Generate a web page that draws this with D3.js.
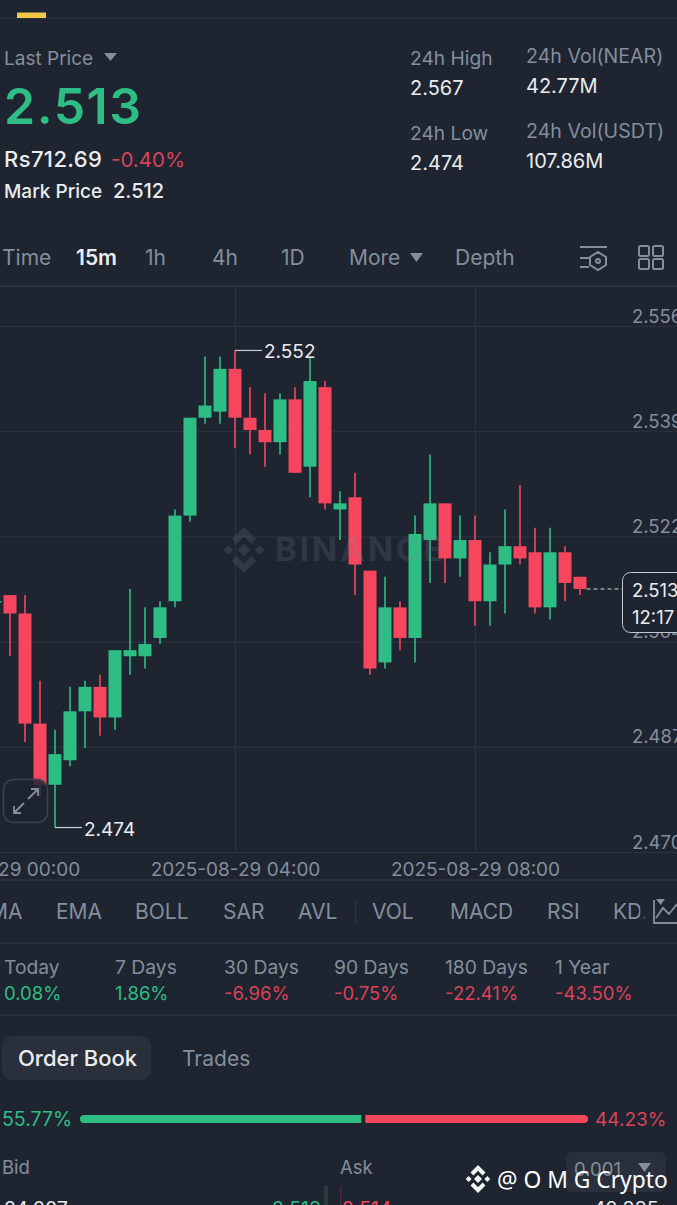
<!DOCTYPE html>
<html>
<head>
<meta charset="utf-8">
<script src="https://cdn.jsdelivr.net/npm/d3@7"></script>
<style>
    html, body { margin: 0; padding: 0; background: #1e2530; overflow: hidden; }
    svg { display: block; }
    text { font-family: Inter, sans-serif; }
</style>
</head>
<body>
<div id="chart"></div>
<script>
// candles, one per 15 minutes
const times = ['00:00', '00:15', '00:30', '00:45', '01:00', '01:15', '01:30', '01:45',
    '02:00', '02:15', '02:30', '02:45', '03:00', '03:15', '03:30', '03:45',
    '04:00', '04:15', '04:30', '04:45', '05:00', '05:15', '05:30', '05:45',
    '06:00', '06:15', '06:30', '06:45', '07:00', '07:15', '07:30', '07:45',
    '08:00', '08:15', '08:30', '08:45', '09:00', '09:15', '09:30', '09:45'];
const opens = [2.511, 2.512, 2.509, 2.491, 2.481, 2.485, 2.493, 2.497,
    2.492, 2.502, 2.502, 2.505, 2.511, 2.525, 2.541, 2.542,
    2.549, 2.541, 2.539, 2.537, 2.544, 2.533, 2.546, 2.526,
    2.528, 2.516, 2.501, 2.510, 2.505, 2.521, 2.527, 2.518,
    2.521, 2.511, 2.517, 2.520, 2.519, 2.510, 2.519, 2.515];
const closes = [2.511, 2.509, 2.491, 2.481, 2.486, 2.493, 2.497, 2.492,
    2.503, 2.503, 2.504, 2.510, 2.525, 2.541, 2.543, 2.549,
    2.541, 2.539, 2.537, 2.544, 2.532, 2.547, 2.527, 2.527,
    2.517, 2.500, 2.510, 2.505, 2.522, 2.527, 2.518, 2.521,
    2.511, 2.517, 2.520, 2.518, 2.510, 2.519, 2.514, 2.513];
const highs = [2.511, 2.512, 2.512, 2.498, 2.490, 2.497, 2.498, 2.499,
    2.503, 2.513, 2.510, 2.511, 2.526, 2.541, 2.551, 2.551,
    2.552, 2.546, 2.545, 2.545, 2.546, 2.551, 2.547, 2.529,
    2.532, 2.516, 2.515, 2.511, 2.525, 2.535, 2.527, 2.525,
    2.525, 2.519, 2.526, 2.530, 2.523, 2.523, 2.520, 2.515];
const lows = [2.511, 2.502, 2.488, 2.479, 2.474, 2.484, 2.487, 2.489,
    2.490, 2.499, 2.500, 2.504, 2.510, 2.524, 2.540, 2.540,
    2.536, 2.535, 2.533, 2.535, 2.532, 2.528, 2.526, 2.521,
    2.512, 2.499, 2.500, 2.503, 2.501, 2.514, 2.514, 2.515,
    2.507, 2.507, 2.509, 2.517, 2.509, 2.508, 2.511, 2.512];

const priceTicks = [2.556, 2.5388, 2.5216, 2.5044, 2.4872, 2.47];
const timeTicks = ['00:00', '04:00', '08:00'];
const lastPrice = 2.513;
const highMark = { time: '04:00', price: 2.552 };
const lowMark = { time: '01:00', price: 2.474 };

const headerLabels = ['24h High', '24h Low', '24h Vol(NEAR)', '24h Vol(USDT)'];
const headerValues = ['2.567', '2.474', '42.77M', '107.86M'];
const intervals = ['Time', '15m', '1h', '4h', '1D', 'More', 'Depth'];
const indicators = ['MA', 'EMA', 'BOLL', 'SAR', 'AVL', 'VOL', 'MACD', 'RSI', 'KD.'];
const periods = ['Today', '7 Days', '30 Days', '90 Days', '180 Days', '1 Year'];
const periodChanges = [0.08, 1.86, -6.96, -0.75, -22.41, -43.50];
const bidShare = 55.77;
const askShare = 44.23;

const W = 677;
const H = 1205;
const bg = '#1e2530';
const green = '#2ebd85';
const red = '#f6465d';
const redText = '#d8435a';
const gray = '#848e9c';
const white = '#eaecef';
const rule = '#2d333d';

const parseTime = d3.utcParse('%Y-%m-%d %H:%M');
const toDate = t => parseTime(`2025-08-29 ${t}`);

const svg = d3.select('#chart').append('svg')
    .attr('width', W)
    .attr('height', H);

svg.append('rect').attr('width', W).attr('height', H).attr('fill', bg);

function label(str, x, y, size, color, weight) {
    return svg.append('text')
        .attr('x', x)
        .attr('y', y)
        .attr('font-size', size)
        .attr('font-weight', weight || 400)
        .attr('fill', color)
        .text(str);
}

function hline(y, x1, x2, w) {
    svg.append('line')
        .attr('x1', x1 || 0).attr('x2', x2 || W)
        .attr('y1', y).attr('y2', y)
        .attr('stroke', rule)
        .attr('stroke-width', w || 1.5);
}

function triangle(x, y, w, h, color) {
    svg.append('path')
        .attr('d', `M${x},${y}h${w}l${-w / 2},${h}z`)
        .attr('fill', color);
}

// exchange logo: centre diamond, two side diamonds, two chevrons
function logo(cx, cy, r, color) {
    const g = svg.append('g')
        .attr('transform', `translate(${cx},${cy}) scale(${r / 12})`)
        .attr('fill', color);
    g.append('path').attr('d', 'M0,-3.4L3.4,0L0,3.4L-3.4,0Z');
    g.append('path').attr('d', 'M-8,-2.5L-5.5,0L-8,2.5L-10.5,0Z');
    g.append('path').attr('d', 'M8,-2.5L10.5,0L8,2.5L5.5,0Z');
    g.append('path').attr('d', 'M0,-12L6.4,-5.6L3.9,-3.1L0,-7L-3.9,-3.1L-6.4,-5.6Z');
    g.append('path').attr('d', 'M0,12L6.4,5.6L3.9,3.1L0,7L-3.9,3.1L-6.4,5.6Z');
}

// top strip
hline(18);
svg.append('rect').attr('x', 17).attr('y', 12.5).attr('width', 29).attr('height', 5.5)
    .attr('fill', '#f0c94a');

// header block
label('Last Price', 4, 65, 19, gray);
triangle(104, 53, 13, 8, gray);
label('2.513', 4, 124, 50, green, 600).attr('letter-spacing', 1.5);
label('Rs712.69', 4, 167, 22, white, 500).attr('letter-spacing', 0.4);
label('-0.40%', 111, 167, 20.5, redText);
label('Mark Price', 4, 198, 19, white, 500);
label('2.512', 113, 198, 20, white, 500);

const headerX = [410, 410, 526, 526];
const headerLabelY = [65, 140, 63, 138];
const headerValueY = [95, 170, 93, 168];
headerLabels.forEach((d, i) => {
    label(d, headerX[i], headerLabelY[i], i < 2 ? 19.2 : 19.6, gray);
    label(headerValues[i], headerX[i], headerValueY[i], 20, white);
});

// interval tabs
const intervalX = [2, 76, 145, 212, 281, 349, 455];
intervals.forEach((d, i) => {
    label(d, intervalX[i], 265, 21, i === 1 ? white : gray, i === 1 ? 600 : 400);
});
triangle(410, 253, 13, 9, gray);

// tool icons at the right of the tabs
const toolIcon = svg.append('g')
    .attr('fill', 'none')
    .attr('stroke', gray)
    .attr('stroke-width', 2);
toolIcon.append('path').attr('d', 'M580,247H607M580,258H589M580,267H589');
toolIcon.append('path').attr('d', 'M598,252L606,257V265L598,270L590,265V257Z');
toolIcon.append('circle').attr('cx', 598).attr('cy', 261).attr('r', 2);
[[639, 246], [653, 246], [639, 259], [653, 259]].forEach((p) => {
    toolIcon.append('rect')
        .attr('x', p[0]).attr('y', p[1])
        .attr('width', 10).attr('height', 10)
        .attr('rx', 1.5);
});

// chart scales
const x = d3.scaleUtc()
    .domain([toDate('00:00'), toDate('08:00')])
    .range([-5, 475]);
const y = d3.scaleLinear()
    .domain([2.47, 2.556])
    .range([852, 326]);
const bodyW = 13;

hline(286, 0, W, 2);

// price axis with gridlines
const yAxis = d3.axisRight(y)
    .tickValues(priceTicks)
    .tickFormat(d3.format('.3f'))
    .tickSize(W);
const gy = svg.append('g').call(yAxis);
gy.select('.domain').remove();
gy.selectAll('.tick line').attr('stroke', rule).attr('stroke-width', 1);
gy.selectAll('.tick text')
    .attr('x', 632)
    .attr('dy', -4)
    .attr('dominant-baseline', 'auto')
    .attr('font-size', 18.5)
    .attr('fill', gray);

// time axis with gridlines
const xAxis = d3.axisBottom(x)
    .tickValues(timeTicks.map(toDate))
    .tickFormat(d3.utcFormat('%Y-%m-%d %H:%M'))
    .tickSize(565)
    .tickPadding(11);
const gx = svg.append('g').attr('transform', 'translate(0,287)').call(xAxis);
gx.select('.domain').remove();
gx.selectAll('.tick line').attr('stroke', rule).attr('stroke-width', 1);
gx.selectAll('.tick text')
    .attr('font-size', 19)
    .attr('fill', gray);

// candles
const candles = times.map((t, i) => ({
    t: toDate(t), open: opens[i], close: closes[i], high: highs[i], low: lows[i],
}));
const candle = svg.append('g').selectAll('g')
    .data(candles)
    .enter().append('g')
    .attr('fill', d => (d.close >= d.open ? green : red))
    .attr('stroke', d => (d.close >= d.open ? green : red));
candle.append('line')
    .attr('x1', d => x(d.t))
    .attr('x2', d => x(d.t))
    .attr('y1', d => y(d.high))
    .attr('y2', d => y(d.low))
    .attr('stroke-width', 1.6);
candle.append('rect')
    .attr('x', d => x(d.t) - bodyW / 2)
    .attr('width', bodyW)
    .attr('y', d => y(Math.max(d.open, d.close)))
    .attr('height', d => Math.max(1.5, Math.abs(y(d.open) - y(d.close))))
    .attr('stroke', 'none');

// watermark sits over the candles, faint
const markColor = 'rgba(125,135,155,0.2)';
logo(244, 550, 23, markColor);
label('BINANCE', 275, 561, 33, markColor, 700).attr('letter-spacing', 3);

// high and low markers
const markG = svg.append('g').attr('stroke', '#c9ccd1').attr('stroke-width', 1.2).attr('fill', 'none');
markG.append('line')
    .attr('x1', x(toDate(highMark.time))).attr('x2', 262)
    .attr('y1', y(highMark.price)).attr('y2', y(highMark.price));
markG.append('line')
    .attr('x1', x(toDate(lowMark.time))).attr('x2', 82)
    .attr('y1', y(lowMark.price)).attr('y2', y(lowMark.price));
label(d3.format('.3f')(highMark.price), 264, y(highMark.price) + 8, 19, white);
label(d3.format('.3f')(lowMark.price), 84, y(lowMark.price) + 8, 19, white);

// last price line and box
svg.append('line')
    .attr('x1', x(toDate(times[times.length - 1])) + bodyW / 2).attr('x2', 622)
    .attr('y1', y(lastPrice)).attr('y2', y(lastPrice))
    .attr('stroke', '#d5d7da')
    .attr('stroke-width', 1)
    .attr('stroke-dasharray', '4,3');
svg.append('rect')
    .attr('x', 622.5).attr('y', 572.5)
    .attr('width', 80).attr('height', 60)
    .attr('rx', 8)
    .attr('fill', bg)
    .attr('stroke', '#c4c7cc')
    .attr('stroke-width', 1);
label(d3.format('.3f')(lastPrice), 632, 597, 18.5, white);
label('12:17', 632, 624, 18.5, white);

// expand button
svg.append('rect')
    .attr('x', 3.5).attr('y', 779.5)
    .attr('width', 44).attr('height', 43)
    .attr('rx', 10)
    .attr('fill', 'rgba(30,37,48,0.82)')
    .attr('stroke', '#3b424e')
    .attr('stroke-width', 1.5);
svg.append('path')
    .attr('d', 'M14,813L24,803M14,806V813H21M28,799L38,789M31,789H38V796')
    .attr('fill', 'none')
    .attr('stroke', '#848e9c')
    .attr('stroke-width', 1.8);

// indicator row
hline(880);
const indicatorX = [-11, 56, 135, 223, 298, 372, 450, 547, 613];
indicators.forEach((d, i) => {
    label(d, indicatorX[i], 919, 21, gray);
});
svg.append('line').attr('x1', 355.5).attr('x2', 355.5).attr('y1', 900).attr('y2', 924)
    .attr('stroke', rule).attr('stroke-width', 1.5);
svg.append('rect').attr('x', 640).attr('y', 896).attr('width', 14).attr('height', 28).attr('fill', bg).attr('opacity', 0.7);
svg.append('path')
    .attr('d', 'M654,900V923H677M656,918L663,908L669,914L677,904')
    .attr('fill', 'none')
    .attr('stroke', gray)
    .attr('stroke-width', 1.8);
triangle(656, 899, 9, 6, gray);
hline(943);

// performance row
const periodX = [4, 115, 224, 334, 445, 555];
periods.forEach((d, i) => {
    label(d, periodX[i], 974, 19.3, gray);
    const v = periodChanges[i];
    label(`${d3.format('.2f')(v).replace('\u2212', '-')}%`, periodX[i], 1000, 18.5, v >= 0 ? green : redText);
});
hline(1015);

// order book tabs
svg.append('rect')
    .attr('x', 2).attr('y', 1036)
    .attr('width', 149).attr('height', 44)
    .attr('rx', 10)
    .attr('fill', '#2a303b');
label('Order Book', 18, 1066, 22, white, 500);
label('Trades', 182, 1066, 21, gray);

// bid / ask ratio bar
const ratio = d3.scaleLinear().domain([0, bidShare + askShare]).range([80, 588]);
label(`${bidShare}%`, 2, 1126, 19.5, green);
label(`${askShare}%`, 595, 1126, 19, redText);
svg.append('path')
    .attr('d', `M${ratio(bidShare) - 2},1115H84a4,4 0 0 0 0,8H${ratio(bidShare) - 2}Z`)
    .attr('fill', green);
svg.append('path')
    .attr('d', `M${ratio(bidShare) + 2},1115H${ratio(bidShare + askShare) - 4}a4,4 0 0 1 0,8H${ratio(bidShare) + 2}Z`)
    .attr('fill', red);

// order book header and first row, cut by the window
label('Bid', 2, 1174, 18.5, gray);
label('Ask', 340, 1174, 18.5, gray);
svg.append('rect')
    .attr('x', 566).attr('y', 1152)
    .attr('width', 100).attr('height', 40)
    .attr('rx', 6)
    .attr('fill', '#2a303b');
label('0.001', 574, 1176, 18.5, gray);
triangle(638, 1163, 13, 9, gray);
svg.append('rect').attr('x', 324).attr('y', 1186).attr('width', 4).attr('height', 19).attr('fill', '#2b3a3c');
svg.append('rect').attr('x', 340).attr('y', 1186).attr('width', 1.5).attr('height', 19).attr('fill', '#4a2a38');
label('24,007', 4, 1216, 19.5, white);
label('2.513', 272, 1216, 19.5, green);
label('2.514', 342, 1216, 19.5, red);
label('42.335', 593, 1216, 19.5, white);

// post watermark
logo(478, 1179, 14, '#f4f5f6');
label('@ O M G Crypto', 497, 1188, 22.8, '#ffffff').style('font-family', '"Noto Sans", sans-serif');
</script>
</body>
</html>
